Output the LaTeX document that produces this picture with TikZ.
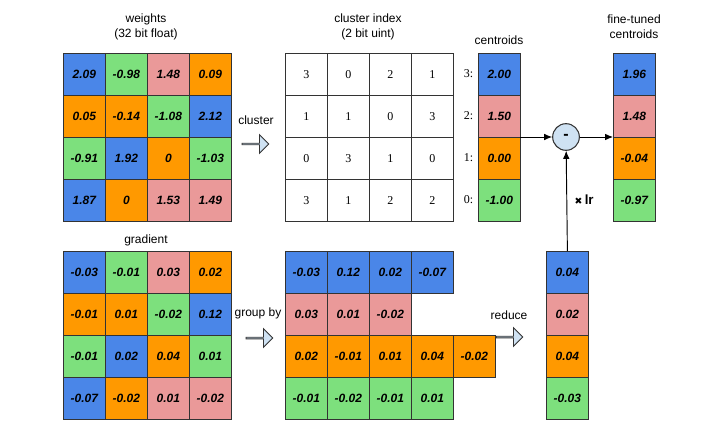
\documentclass[tikz,border=0pt]{standalone}
\usepackage{fontspec}
\setmainfont{Liberation Sans}
\newfontfamily\serif{Liberation Serif}
\newfontfamily\djv{DejaVu Sans}
\usetikzlibrary{shapes.arrows,arrows.meta}
\definecolor{cB}{HTML}{4A86E8}
\definecolor{cG}{HTML}{7DE07D}
\definecolor{cP}{HTML}{EA9999}
\definecolor{cO}{HTML}{FF9900}
\definecolor{cW}{HTML}{FFFFFF}
\definecolor{arrowfill}{HTML}{CFE2F3}
\definecolor{idxblue}{HTML}{1F3F8F}
\begin{document}
\begin{tikzpicture}[x=0.75pt,y=-0.75pt,
  cell/.style={draw=black!80,line width=0.6pt,minimum width=31.5pt,minimum height=31.5pt,inner sep=0pt,anchor=north west,font=\bfseries\itshape\small},
  idx/.style={cell,font=\serif\small,fill=white},
  lab/.style={font=\small,align=center},
  blk/.style={single arrow,draw=black!80,fill=arrowfill,minimum height=20pt,minimum width=14pt,single arrow head extend=3pt,inner sep=0pt,line width=0.6pt},
  con/.style={-{Latex[length=6pt,width=5pt]},line width=0.7pt}]
\useasboundingbox (0,0) rectangle (723,442);
% weights
\node[lab] (tw) at (146,27) {weights\\(32 bit float)};
\foreach \r/\row in {0/{cB/2.09,cG/-0.98,cP/1.48,cO/0.09},1/{cO/0.05,cO/-0.14,cG/-1.08,cB/2.12},2/{cG/-0.91,cB/1.92,cO/0,cG/-1.03},3/{cB/1.87,cO/0,cP/1.53,cP/1.49}}{
  \foreach \c/\t [count=\i from 0] in \row {
    \node[cell,fill=\c] (w\r\i) at (63+42*\i,53+42*\r) {\t};}}
% cluster index
\node[lab] (tc) at (368,27) {cluster index\\(2 bit uint)};
\foreach \r/\row in {0/{3,0,2,1},1/{1,1,0,3},2/{0,3,1,0},3/{3,1,2,2}}{
  \foreach \t [count=\i from 0] in \row {
    \node[idx] (k\r\i) at (285+42*\i,53+42*\r) {\t};}}
\node[lab] (lcl) at (256,120) {cluster};
\node[blk] (acl) at (255,144) {};
% centroids
\node[lab] (tce) at (499,40) {centroids};
\foreach \c/\t/\n [count=\i from 0] in {cB/2.00/3,cP/1.50/2,cO/0.00/1,cG/-1.00/0}{
  \node[cell,fill=\c] (ce\i) at (478,53+42*\i) {\t};
  \node[font=\serif\small,anchor=east] (n\i) at (478,74+42*\i) {\n:};}
% fine tuned
\node[lab] (tft) at (634,27) {fine-tuned\\centroids};
\foreach \c/\t [count=\i from 0] in {cB/1.96,cP/1.48,cO/-0.04,cG/-0.97}{
  \node[cell,fill=\c] (f\i) at (613,53+42*\i) {\t};}
% minus
\node[circle,draw=black!80,fill=arrowfill,line width=0.8pt,minimum size=20pt,inner sep=0pt,font=\bfseries\large] (mn) at (566,137) {-};
\coordinate (cr) at (520,137);
\coordinate (fl) at (613,137);
\draw[con] (cr) -- (mn);
\draw[con] (mn) -- (fl);
% gradient
\node[lab] (tg) at (146,240) {gradient};
\foreach \r/\row in {0/{cB/-0.03,cG/-0.01,cP/0.03,cO/0.02},1/{cO/-0.01,cO/0.01,cG/-0.02,cB/0.12},2/{cG/-0.01,cB/0.02,cO/0.04,cG/0.01},3/{cB/-0.07,cO/-0.02,cP/0.01,cP/-0.02}}{
  \foreach \c/\t [count=\i from 0] in \row {
    \node[cell,fill=\c] (g\r\i) at (63+42*\i,251+42*\r) {\t};}}
\node[lab] (lgb) at (258,313) {group by};
\node[blk] (agb) at (259,338) {};
% grouped
\foreach \r/\c/\row in {0/cB/{-0.03,0.12,0.02,-0.07},1/cP/{0.03,0.01,-0.02},2/cO/{0.02,-0.01,0.01,0.04,-0.02},3/cG/{-0.01,-0.02,-0.01,0.01}}{
  \foreach \t [count=\i from 0] in \row {
    \node[cell,fill=\c] (q\r\i) at (285+42*\i,251+42*\r) {\t};}}
\node[lab] (lrd) at (509,315) {reduce};
\node[blk] (ard) at (509,337) {};
% reduced
\foreach \c/\t [count=\i from 0] in {cB/0.04,cP/0.02,cO/0.04,cG/-0.03}{
  \node[cell,fill=\c] (r\i) at (546,251+42*\i) {\t};}
\draw[con] (r0.north) -- (mn);
\node[font=\bfseries,anchor=west] (lr) at (570,200) {{\djv\scriptsize ✖}\,lr};
\end{tikzpicture}
\end{document}
